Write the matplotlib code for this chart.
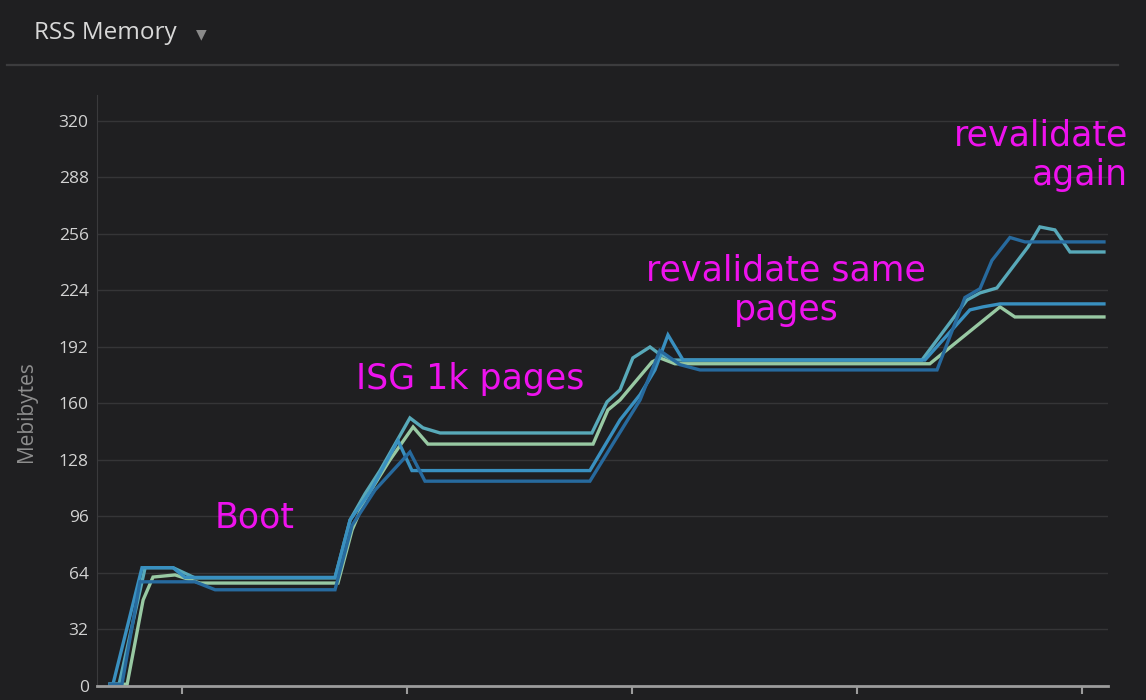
import matplotlib
matplotlib.use("Agg")
import matplotlib.pyplot as plt
from matplotlib.lines import Line2D

# time axis (minutes, arbitrary origin) and RSS in MiB for four runs
t_dark = [6.8, 7.33, 8.13, 10.58, 11.47, 16.8, 17.56, 18.58, 20.13, 20.8, 28.13,
          29.24, 30.36, 31.24, 32.13, 33.02, 43.56, 44.8, 45.47, 46.0, 46.8, 47.47, 50.98]
v_dark = [1, 1, 59, 59, 54.5, 54.5, 91, 111, 132.5, 116, 116,
          139, 162, 190, 182, 179, 179, 220, 225, 241, 254, 251.5, 251.5]

t_mid = [6.8, 6.93, 8.22, 9.6, 10.13, 16.8, 17.47, 18.36, 19.6, 20.22, 28.13,
         29.47, 30.36, 31.02, 31.6, 32.27, 43.02, 45.02, 45.6, 46.36, 50.98]
v_mid = [1, 1, 67, 67, 61.5, 61.5, 94, 110, 139, 122, 122,
         150.7, 165, 179, 198.8, 184.6, 184.6, 213, 214.7, 216.4, 216.4]

t_teal = [6.8, 7.2, 8.36, 9.6, 10.58, 16.8, 17.47, 18.14, 18.8, 20.13, 20.71, 21.47,
          28.22, 28.89, 29.47, 30.04, 30.8, 31.16, 31.82, 42.89, 44.89, 45.47, 46.22,
          47.6, 48.13, 48.8, 49.47, 50.98]
v_teal = [1, 1, 67, 67, 61.2, 61.2, 94, 109, 122, 151.8, 146.2, 143.3,
          143.3, 160.9, 167.7, 185.8, 192, 188.6, 184.6, 184.6, 218.6, 222.6, 225.4,
          248.6, 260, 258.3, 245.8, 245.8]

t_green = [6.8, 7.56, 8.27, 8.71, 9.69, 10.8, 16.93, 17.56, 18.13, 19.24, 20.27, 20.93,
           28.27, 28.93, 29.47, 30.89, 31.24, 31.91, 43.24, 46.36, 47.02, 50.98]
v_green = [1, 1, 48.7, 61.7, 62.9, 58.3, 58.3, 88.4, 105.4, 128, 146.7, 137,
           137, 156.3, 162, 183.5, 185.8, 182.5, 182.5, 214.7, 209, 209]

y_ticks = [0, 32, 64, 96, 128, 160, 192, 224, 256, 288, 320]
x_ticks = [10, 20, 30, 40, 50]

notes = [("Boot", 13.24, 95.7, "center"),
         ("ISG 1k pages", 22.8, 173.9, "center"),
         ("revalidate same\npages", 36.84, 224.3, "center"),
         ("revalidate\nagain", 52.04, 300.8, "right")]

BG = "#1f1f21"
fig = plt.figure(figsize=(11.46, 7.0), dpi=100)
fig.patch.set_facecolor(BG)
ax = fig.add_axes([97 / 1146, 14 / 700, 1011 / 1146, 591 / 700])
ax.set_facecolor(BG)

ax.plot(t_green, v_green, color="#98c9a3", lw=2.4, solid_joinstyle="miter")
ax.plot(t_teal, v_teal, color="#58a9b9", lw=2.4, solid_joinstyle="miter")
ax.plot(t_mid, v_mid, color="#3990c0", lw=2.4, solid_joinstyle="miter")
ax.plot(t_dark, v_dark, color="#276a9e", lw=2.4, solid_joinstyle="miter")

ax.set_xlim(6.22, 51.16)
ax.set_ylim(0, 334.7)
ax.set_yticks(y_ticks)
ax.set_xticks(x_ticks)
ax.set_xticklabels([])
ax.grid(axis="y", color="#353537", lw=1)
ax.set_axisbelow(True)
ax.tick_params(axis="y", length=0, pad=6, labelsize=12.5, labelcolor="#d2d2d2")
ax.tick_params(axis="x", length=6, width=1.5, color="#9c9c9c", direction="out")
for lab in ax.get_yticklabels():
    lab.set_family("Open Sans")
for side in ("top", "right"):
    ax.spines[side].set_visible(False)
ax.spines["left"].set_color("#3a3a3c")
ax.spines["bottom"].set_color("#9c9c9c")
ax.spines["bottom"].set_linewidth(2)
ax.set_ylabel("Mebibytes", color="#8e8e8e", fontsize=15, family="Open Sans")
ax.yaxis.set_label_coords(-0.059, 0.465)

for text, x, y, ha in notes:
    ax.text(x, y, text, color="#ee12ee", fontsize=25, ha=ha, va="center",
            family="DejaVu Sans", clip_on=False)

# panel header
fig.text(34 / 1146, 1 - 33 / 700, "RSS Memory", color="#d8d8d8", fontsize=17.5,
         family="Open Sans", va="center", ha="left")
fig.text(201 / 1146, 1 - 34 / 700, "\u25bc", color="#8a8a8a", fontsize=10,
         family="DejaVu Sans", va="center", ha="center", transform=fig.transFigure)
fig.add_artist(Line2D([7 / 1146, 1118 / 1146], [1 - 65 / 700] * 2,
                      color="#3c3c3e", lw=1.6, transform=fig.transFigure))

plt.savefig("out.png", dpi=100, facecolor=BG)
